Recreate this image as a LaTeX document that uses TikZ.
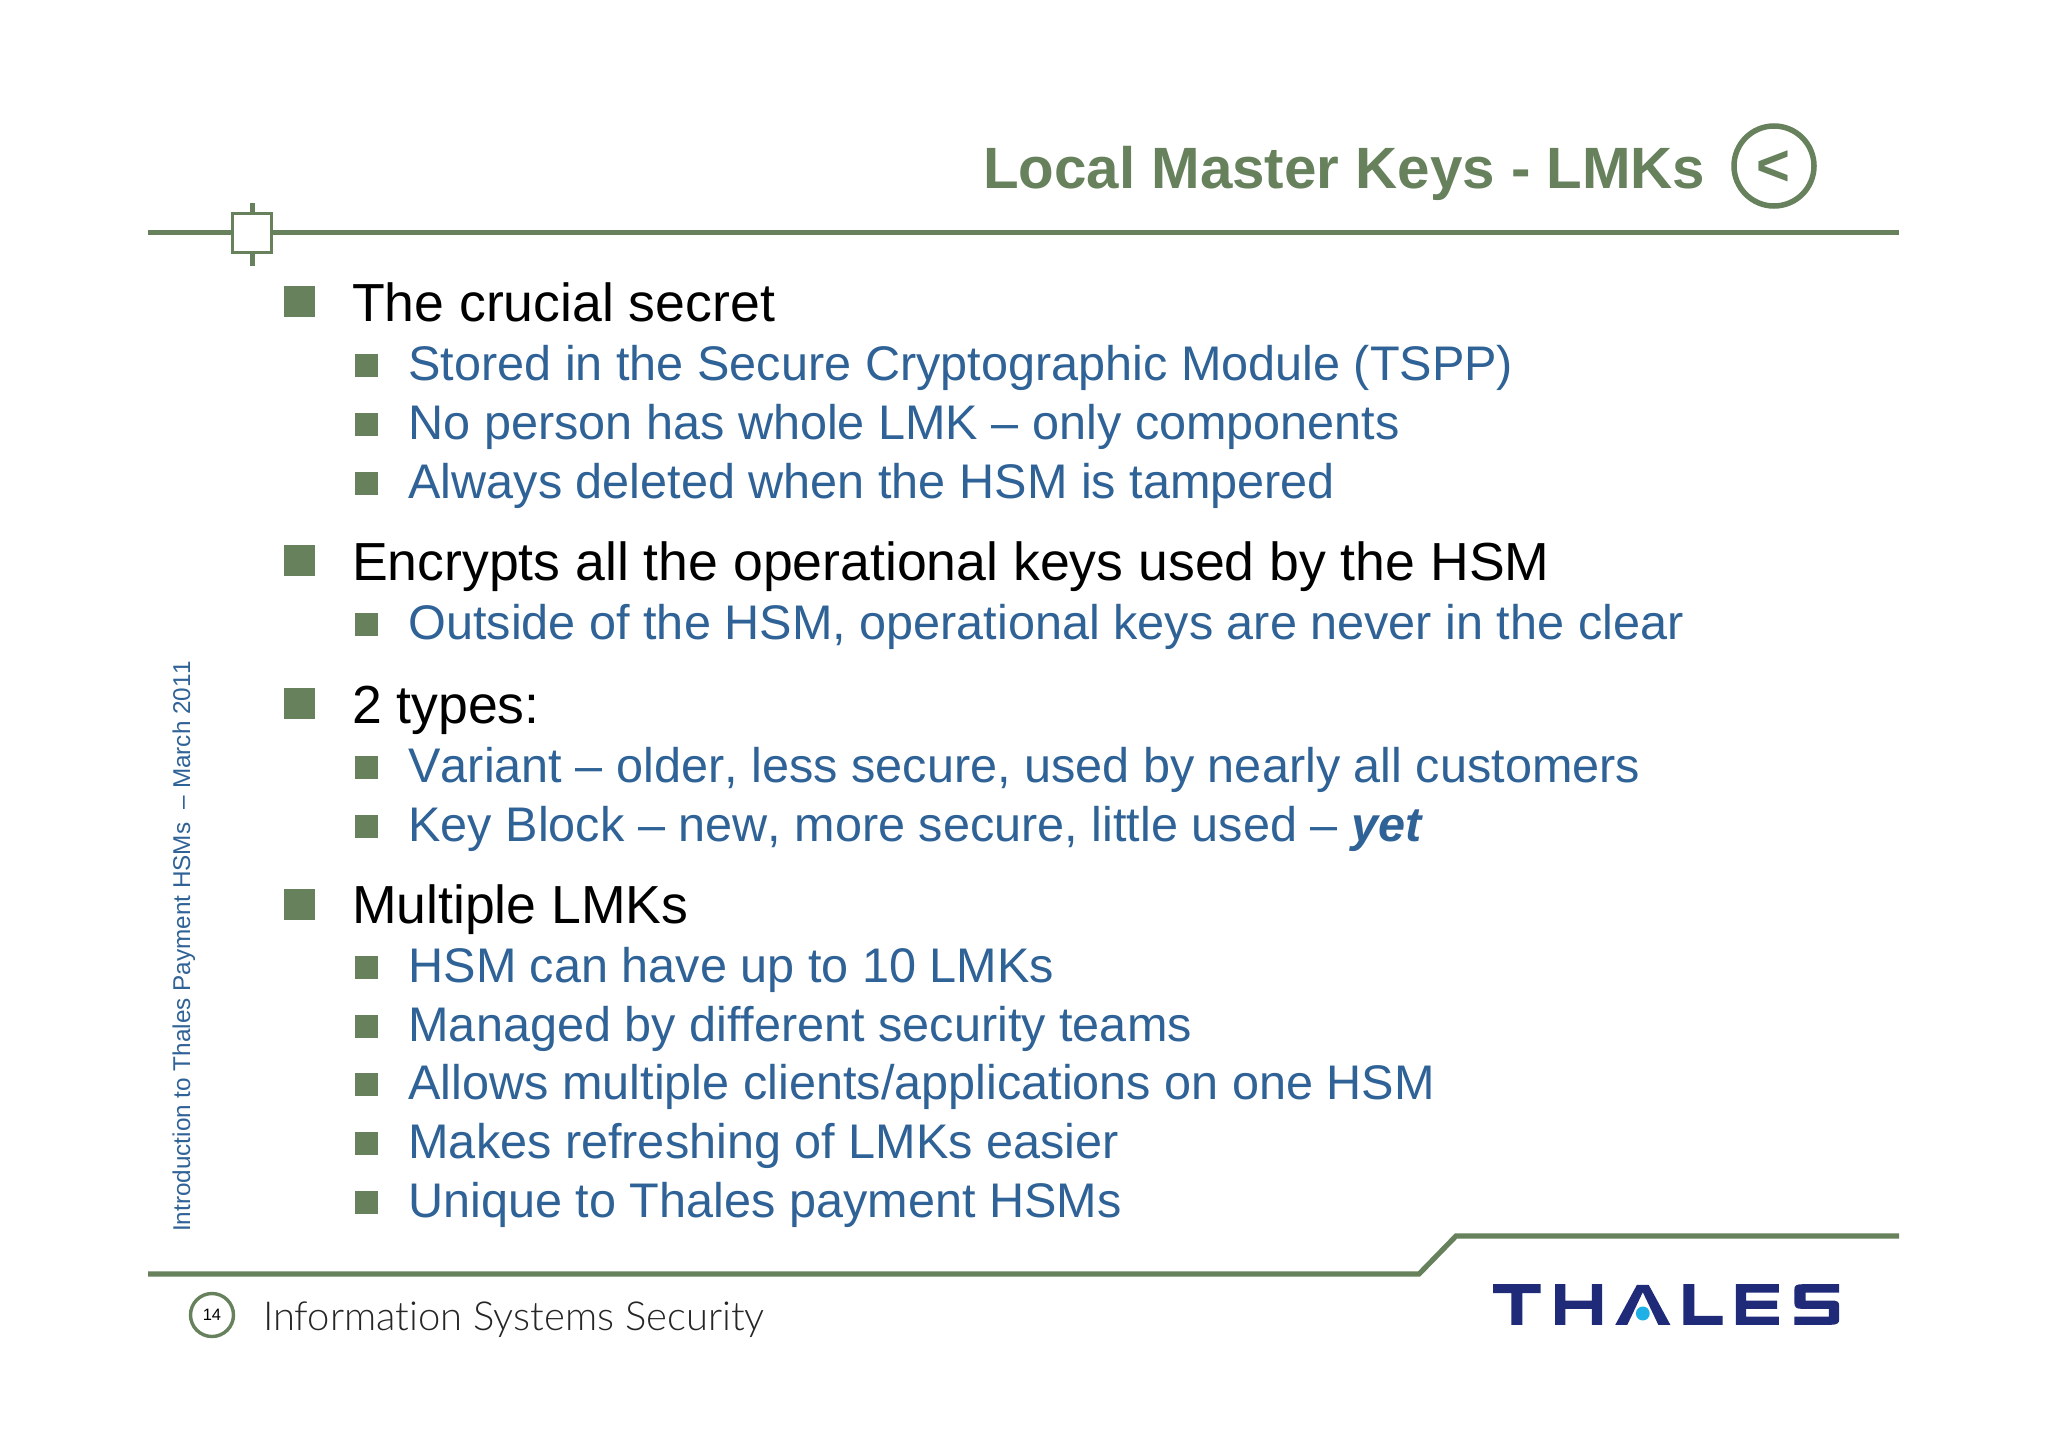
\documentclass[tikz,border=0pt]{standalone}
\usepackage{fontspec}
\setmainfont[Kerning=Off]{Liberation Sans}
\newfontfamily\footf[UprightFont={* Light},Ligatures=NoCommon]{Lato}
\definecolor{gr}{HTML}{66815C}
\definecolor{bl}{HTML}{2F6296}
\definecolor{thn}{HTML}{1F2A78}
\definecolor{thc}{HTML}{1FB0E6}
\tikzset{
  txt/.style={anchor=base west,inner sep=0pt,outer sep=0pt},
  lone/.style={txt,text=black,font=\fontsize{53.6}{60}\selectfont},
  ltwo/.style={txt,text=bl,font=\fontsize{48.6}{56}\selectfont},
  rulel/.style={draw=gr,line width=5pt},
}
\newcommand{\lineone}[3]{\fill[gr] (284,#2-35) rectangle (315,#2-4); \node[lone] (#1) at (352,#2) {#3};}
\newcommand{\linetwo}[3]{\fill[gr] (355,#2-26.4) rectangle (378,#2-3.4); \node[ltwo] (#1) at (408.5,#2) {#3};}
\begin{document}
\begin{tikzpicture}[x=1pt,y=-1pt]
\useasboundingbox (0,0) rectangle (2048,1447);
\fill[white] (0,0) rectangle (2048,1447);
% header
\coordinate (hl) at (148,233); \coordinate (hr) at (1899,233);
\draw[rulel] (hl) -- (hr);
\node[draw=gr,fill=white,line width=3.8pt,minimum size=39pt,inner sep=0pt,outer sep=0pt] (box) at (252,233) {};
\coordinate (tt) at (252,203); \coordinate (tb) at (252,266);
\draw[gr,line width=5pt] (tt) -- (box.north);
\draw[gr,line width=5pt] (box.south) -- (tb);
\node[txt,text=gr,font=\fontsize{58.3}{64}\selectfont\bfseries] (title) at (983,189) {Local Master Keys - LMKs};
\node[circle,draw=gr,line width=5.5pt,minimum size=80pt,inner sep=0pt] (back) at (1774,166) {};
\node[text=gr,font=\fontsize{58}{64}\selectfont\bfseries,inner sep=0pt,anchor=base] (lt) at (1773,186) {<};
% body
\lineone{a}{321.3}{The crucial secret}
\linetwo{a1}{380.5}{Stored in the Secure Cryptographic Module (TSPP)}
\linetwo{a2}{439.5}{No person has whole LMK – only components}
\linetwo{a3}{498.5}{Always deleted when the HSM is tampered}
\lineone{b}{580}{Encrypts all the operational keys used by the HSM}
\linetwo{b1}{639.5}{Outside of the HSM, operational keys are never in the clear}
\lineone{c}{723}{2 types:}
\linetwo{c1}{782}{Variant – older, less secure, used by nearly all customers}
\linetwo{c2}{841}{Key Block – new, more secure, little used – \textbf{\textit{yet}}}
\lineone{d}{923.5}{Multiple LMKs}
\linetwo{d1}{982}{HSM can have up to 10 LMKs}
\linetwo{d2}{1041}{Managed by different security teams}
\linetwo{d3}{1099.5}{Allows multiple clients/applications on one HSM}
\linetwo{d4}{1158}{Makes refreshing of LMKs easier}
\linetwo{d5}{1217}{Unique to Thales payment HSMs}
% side
\node[anchor=base west,inner sep=0pt,rotate=90,text=bl,font=\fontsize{24.3}{28}\selectfont] (side) at (190,1232) {Introduction to Thales Payment HSMs\ \ – March 2011};
% footer rule
\coordinate (f1) at (148,1274); \coordinate (f2) at (1419,1274); \coordinate (f3) at (1456,1236); \coordinate (f4) at (1899,1236);
\draw[rulel,line width=5.2pt] (f1) -- (f2) -- (f3) -- (f4);
\node[circle,draw=gr,line width=3.4pt,minimum size=43pt,inner sep=0pt,font=\fontsize{16.5}{18}\selectfont] (pg) at (212,1315) {14};
\node[txt,text=black!85,font=\footf\fontsize{40}{44}\selectfont] (foot) at (263,1330) {Information Systems Security};
% logo
\begin{scope}[shift={(1400,1221.5)},x=0.3444pt,y=-0.3333pt]
\fill[thn] (270,188) -- (408,188) -- (408,215) -- (355,215) -- (355,310) -- (323,310) -- (323,215) -- (270,215) -- cycle;
\fill[thn] (450,188) -- (480,188) -- (480,237) -- (557,237) -- (557,188) -- (587,188) -- (587,310) -- (557,310) -- (557,262) -- (480,262) -- (480,310) -- (450,310) -- cycle;
\fill[thn] (688,190) -- (722,190) -- (785,310) -- (750,310) -- (705,212) -- (660,310) -- (625,310) -- cycle;
\fill[thc] (705,276) ellipse [x radius=20,y radius=21];
\fill[thn] (823,188) -- (855,188) -- (855,283) -- (937,283) -- (937,310) -- (823,310) -- cycle;
\fill[thn] (975,188) -- (1100,188) -- (1100,213) -- (1005,213) -- (1005,237) -- (1095,237) -- (1095,262) -- (1005,262) -- (1005,285) -- (1100,285) -- (1100,310) -- (975,310) -- cycle;
\fill[thn] (1275,188) -- (1170,188) .. controls (1150,188) and (1145,192) .. (1145,205) -- (1145,243) .. controls (1145,256) and (1150,262) .. (1165,262) -- (1245,262) -- (1245,285) -- (1145,285) -- (1145,310) -- (1250,310) .. controls (1270,310) and (1275,304) .. (1275,295) -- (1275,252) .. controls (1275,242) and (1270,237) .. (1255,237) -- (1178,237) -- (1178,213) -- (1275,213) -- cycle;
\end{scope}
\end{tikzpicture}
\end{document}
